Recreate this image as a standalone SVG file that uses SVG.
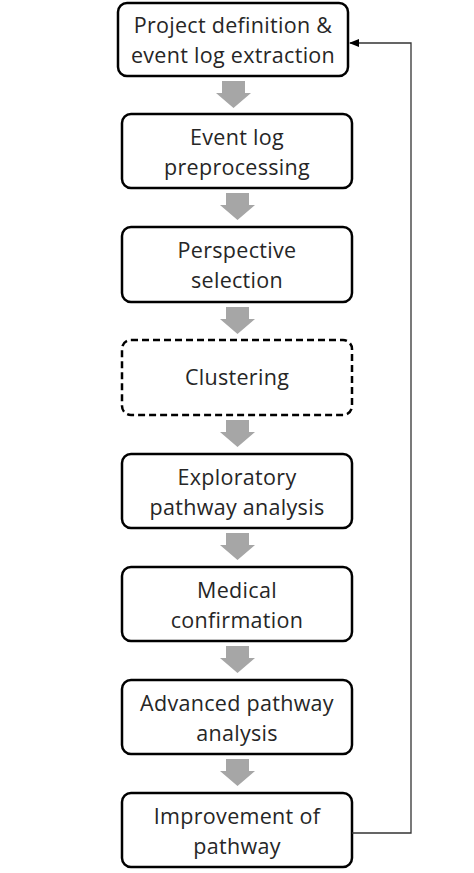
<svg xmlns="http://www.w3.org/2000/svg" width="474" height="873" viewBox="0 0 474 873">
<style>
.box{fill:#fff;stroke:#000;stroke-width:2.5}
.dash{stroke-dasharray:7 4}
.t{font-family:"Open Sans","Liberation Sans",Arial,sans-serif;font-size:21.5px;letter-spacing:0.3px;fill:#262626;text-anchor:middle}
.ar{fill:#a6a6a6}
.fb{fill:none;stroke:#333;stroke-width:1.3}
</style>
<defs>
<marker id="ah" markerWidth="10" markerHeight="8" refX="9" refY="4" orient="auto" markerUnits="userSpaceOnUse">
<path d="M0,0 L10,4 L0,8 Z" fill="#000"/>
</marker>
</defs>
<g id="n1"><rect class="box" x="118" y="3" width="230" height="73" rx="9"/><text class="t" x="233" y="32.5">Project definition &amp;</text><text class="t" x="233" y="62.5">event log extraction</text></g>
<g id="n2"><rect class="box" x="122" y="114" width="230" height="74" rx="9"/><text class="t" x="237" y="144.5">Event log</text><text class="t" x="237" y="174.5">preprocessing</text></g>
<g id="n3"><rect class="box" x="122" y="227" width="230" height="75" rx="9"/><text class="t" x="237" y="258">Perspective</text><text class="t" x="237" y="288">selection</text></g>
<g id="n4"><rect class="box dash" x="122" y="340" width="230" height="75" rx="9"/><text class="t" x="237" y="385">Clustering</text></g>
<g id="n5"><rect class="box" x="122" y="454" width="230" height="74" rx="9"/><text class="t" x="237" y="484.5">Exploratory</text><text class="t" x="237" y="514.5">pathway analysis</text></g>
<g id="n6"><rect class="box" x="122" y="567" width="230" height="74" rx="9"/><text class="t" x="237" y="597.5">Medical</text><text class="t" x="237" y="627.5">confirmation</text></g>
<g id="n7"><rect class="box" x="122" y="680" width="230" height="74" rx="9"/><text class="t" x="237" y="710.5">Advanced pathway</text><text class="t" x="237" y="740.5">analysis</text></g>
<g id="n8"><rect class="box" x="122" y="793" width="230" height="74" rx="9"/><text class="t" x="237" y="823.5">Improvement of</text><text class="t" x="237" y="853.5">pathway</text></g>
<g id="connectors">
<path class="ar" d="M222,81 h23 v12 h6 l-17.5,15 l-17.5,-15 h6 Z"/>
<path class="ar" d="M226,193 h23 v12 h6 l-17.5,15 l-17.5,-15 h6 Z"/>
<path class="ar" d="M226,307 h23 v12 h6 l-17.5,15 l-17.5,-15 h6 Z"/>
<path class="ar" d="M226,420 h23 v12 h6 l-17.5,15 l-17.5,-15 h6 Z"/>
<path class="ar" d="M226,533 h23 v12 h6 l-17.5,15 l-17.5,-15 h6 Z"/>
<path class="ar" d="M226,646 h23 v12 h6 l-17.5,15 l-17.5,-15 h6 Z"/>
<path class="ar" d="M226,759 h23 v12 h6 l-17.5,15 l-17.5,-15 h6 Z"/>
<path class="fb" d="M352,833 H411 V43 H350" marker-end="url(#ah)"/>
</g>
</svg>
